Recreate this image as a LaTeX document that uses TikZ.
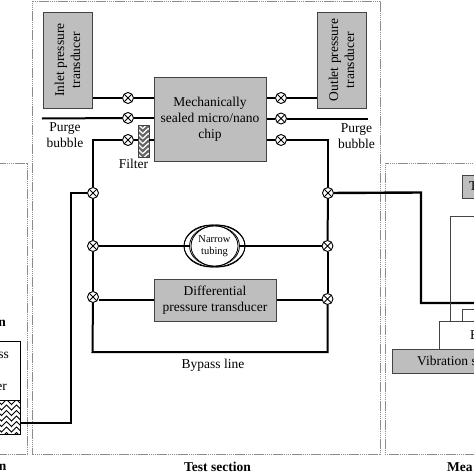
\documentclass[tikz,border=0pt]{standalone}
\usepackage{fontspec}
\setmainfont{Liberation Serif}
\usetikzlibrary{positioning,calc,shapes.geometric,decorations.pathmorphing}
\definecolor{boxgrey}{HTML}{BEBEBE}
\definecolor{framegrey}{HTML}{8C8C8C}
\definecolor{thingrey}{HTML}{444444}
\begin{document}
\begin{tikzpicture}[x=1pt,y=-1pt,
greybox/.style={draw=thingrey,fill=boxgrey,line width=1pt,inner sep=0pt,align=center,font=\fontsize{13.5}{16.2}\selectfont},
thinbox/.style={draw=thingrey,fill=white,line width=1pt,inner sep=0pt},
valve/.style={draw,circle,fill=white,line width=.9pt,minimum size=11pt,inner sep=0pt,
path picture={\draw[line width=.8pt] (path picture bounding box.north west)--(path picture bounding box.south east)
(path picture bounding box.north east)--(path picture bounding box.south west);}},
pipe/.style={line width=2pt,line join=miter},
fatpipe/.style={line width=2.4pt,line join=miter},
frame/.style={draw=framegrey,line width=1pt,dash pattern=on 1.4pt off .5pt},
lab/.style={align=center,inner sep=0pt,font=\fontsize{13.5}{15.8}\selectfont},
sect/.style={inner sep=0pt,font=\fontsize{13.5}{16}\selectfont\bfseries}]
\clip (0,0) rectangle (474,474);
\fill[white] (0,0) rectangle (474,474);
\draw[frame] (32,1) rectangle (380,454);
\draw[frame] (-5,163) rectangle (27,454);
\draw[frame] (385,163) rectangle (480,454);
\node[greybox,rotate=90,minimum width=96pt,minimum height=49pt] (inlet) at (67.5,60) {Inlet pressure\\transducer};
\node[greybox,rotate=90,minimum width=96pt,minimum height=49pt] (outlet) at (341.5,60) {Outlet pressure\\transducer};
\node[greybox,minimum width=112pt,minimum height=84pt] (chip) at (210,119) {Mechanically\\sealed micro/nano\\chip};
\node[greybox,minimum width=122pt,minimum height=42pt] (diff) at (215,300) {Differential\\pressure transducer};
\node[valve] (vin) at (128,98) {};
\node[valve] (vpl) at (128,118) {};
\node[valve] (vfl) at (128,140) {};
\node[valve] (vout) at (281,98) {};
\node[valve] (vpr) at (281,118.5) {};
\node[valve] (vfr) at (281,140) {};
\node[valve] (vjl) at (93,193) {};
\node[valve] (vjr) at (328,193) {};
\node[valve] (vtl) at (93,246) {};
\node[valve] (vtr) at (327.5,246) {};
\node[valve] (vdl) at (93,297) {};
\node[valve] (vdr) at (327.5,299) {};
\node[draw,fill=white,ellipse,minimum width=50pt,minimum height=40pt,inner sep=0pt,line width=.8pt,align=center,font=\fontsize{10.5}{12.5}\selectfont] (tube) at (214.5,246) {Narrow\\tubing};
\draw[line width=.8pt] ($(tube.center)+(-3.5,0)$) ellipse (27 and 21);
\draw[line width=.8pt] ($(tube.center)+(3.5,0)$) ellipse (27 and 21);
\draw[line width=.8pt] (tube.center) ellipse (30.5 and 21);
\node[draw=thingrey,minimum width=11pt,minimum height=32pt,inner sep=0pt,fill=black!60,line width=.7pt,
path picture={\foreach \zy in {-15,-10,...,16}
\draw[white,line width=1.2pt,decorate,decoration={zigzag,segment length=11pt,amplitude=2.6pt}] (-9,\zy)--(9,\zy);}] (filter) at (143.5,141) {};
\node[draw,fill=white,minimum width=32pt,minimum height=34pt,inner sep=0pt,line width=1pt,
path picture={\foreach \zy in {-15,-9.5,...,18}
\draw[line width=.9pt,decorate,decoration={zigzag,segment length=10pt,amplitude=2.6pt}] (-20,\zy)--(20,\zy);}] (water) at (4,417) {};
\draw[line width=1pt] (-5,400)--(-5,341)--(20,341)--(20,400);
\coordinate (purgeL) at (42,118.5);
\coordinate (purgeR) at (368,118.5);
\coordinate (cornerL) at (71,193);
\coordinate (cornerW) at (71,423);
\coordinate (cornerR) at (421,192.5);
\coordinate (cornerM) at (421,303);
\coordinate (exitR) at (474,303);
\coordinate (bypassL) at (92.5,352);
\coordinate (bypassR) at (327.5,352);
\draw[pipe] (vin -| inlet.south)--(vin);
\draw[pipe] (vin)--(vin -| chip.west);
\draw[pipe] (purgeL)--(vpl);
\draw[pipe] (vpl)--(vpl -| chip.west);
\draw[pipe] (vout -| chip.east)--(vout);
\draw[pipe] (vout)--(vout -| outlet.north);
\draw[pipe] (vpr -| chip.east)--(vpr);
\draw[pipe] (vpr)--(purgeR);
\draw[pipe] (vfl)--(vfl -| filter.west);
\draw[pipe] (vfl -| filter.east)--(vfl -| chip.west);
\draw[pipe] (vfl)-|(vjl);
\draw[pipe] (vjl)--(vtl);
\draw[pipe] (vtl)--(vdl);
\draw[pipe] (vdl)--(bypassL)--(bypassR)--(vdr);
\draw[pipe] (vdr)--(vtr);
\draw[pipe] (vtr)--(vjr);
\draw[pipe] (vjr)|-(vfr);
\draw[pipe] (vfr)--(vfr -| chip.east);
\draw[pipe] (vtl)--(tube.west);
\draw[pipe] (tube.east)--(vtr);
\draw[pipe] (vdl.east |- diff.west)--(diff.west);
\draw[pipe] (diff.east)--(vdr.west |- diff.east);
\draw[fatpipe] (vjl)--(cornerL)--(cornerW)--(water.east |- cornerW);
\draw[fatpipe] (vjr)--(cornerR)--(cornerM)--(exitR);
\node[lab] (purgel) at (65,135) {Purge\\bubble};
\node[lab] (purger) at (356.5,136) {Purge\\bubble};
\node[lab] (filterl) at (133.5,163.5) {Filter};
\node[lab] (bypass) at (213,365.5) {Bypass line};
\node[lab,anchor=east] (inleta) at (6,323) {\bfseries n};
\node[lab,anchor=east] (inletb) at (9,355) {ss};
\node[lab,anchor=east] (inletc) at (7,387.5) {er};
\node[sect,anchor=east] (inletsec) at (6.5,467) {n};
\node[sect] (testsec) at (217.5,467) {Test section};
\node[sect,anchor=west] (meassec) at (447,467) {Mea};
\node[greybox,minimum width=30pt,minimum height=23pt] (topbox) at (477,186.5) {};
\node[lab,anchor=west] (topl) at (469,186.5) {T};
\draw[line width=1pt,draw=thingrey] (480,216.5)--(450,216.5)--(450,321);
\node[thinbox,minimum width=25pt,minimum height=12pt] (smallbox) at (474.5,315) {};
\node[thinbox,minimum width=50pt,minimum height=28pt] (ebox) at (464,335) {};
\node[lab,anchor=west] (el) at (470,335) {E};
\node[greybox,minimum width=100pt,minimum height=24pt] (vib) at (442,361) {};
\node[lab,anchor=west] (vibl) at (417,361) {Vibration s};
\end{tikzpicture}
\end{document}
